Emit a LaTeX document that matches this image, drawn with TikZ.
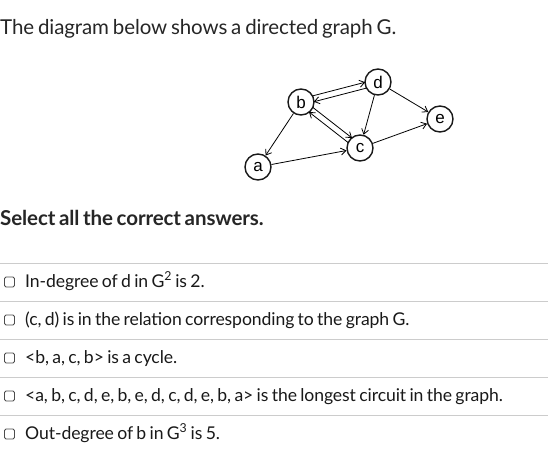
\documentclass[tikz,border=0pt]{standalone}
\usepackage{fontspec}
\setmainfont{Lato}[WordSpace=0.75,LetterSpace=-0.5]
\newfontfamily\nodefont{Liberation Sans}
\usetikzlibrary{arrows.meta,calc}
\begin{document}
\begin{tikzpicture}[x=1pt,y=-1pt,
  vtx/.style={circle,draw=black!90,line width=1.4pt,minimum size=26pt,inner sep=0pt,font=\nodefont\fontsize{17}{17}\selectfont},
  edge/.style={draw=black,line width=0.8pt,-{Straight Barb[length=5pt,width=7pt]}},
  paredge/.style={edge,shorten <=12.5pt,shorten >=12.5pt},
  sep/.style={draw=black!20,line width=1pt},
  cbox/.style={draw=black!70,line width=0.9pt,rounded corners=1.5pt,minimum size=10pt,inner sep=0pt},
  itemtxt/.style={anchor=base west,inner sep=0pt,font=\fontsize{17.6}{19}\selectfont,text=black!90},
]
\useasboundingbox (0,0) rectangle (548,460);
\fill[white] (0,0) rectangle (548,460);
\node[anchor=base west,inner sep=0pt,font=\fontsize{20.5}{22}\selectfont,text=black!85] (title) at (0,35) {The diagram below shows a directed graph G.};
% graph
\node[vtx] (a) at (258,167) {a};
\node[vtx] (b) at (301,102) {b};
\node[vtx] (c) at (360,148) {c};
\node[vtx] (d) at (378,82) {d};
\node[vtx] (e) at (440,119) {e};
\coordinate (bd1) at ($(b)!3pt!90:(d)$);
\coordinate (db1) at ($(d)!3pt!-90:(b)$);
\coordinate (bd2) at ($(b)!3pt!-90:(d)$);
\coordinate (db2) at ($(d)!3pt!90:(b)$);
\coordinate (bc1) at ($(b)!3pt!90:(c)$);
\coordinate (cb1) at ($(c)!3pt!-90:(b)$);
\coordinate (bc2) at ($(b)!3pt!-90:(c)$);
\coordinate (cb2) at ($(c)!3pt!90:(b)$);
\draw[edge] (b) -- (a);
\draw[edge] (a) -- (c);
\draw[paredge] (bd1) -- (db1);
\draw[paredge] (db2) -- (bd2);
\draw[paredge] (bc1) -- (cb1);
\draw[paredge] (cb2) -- (bc2);
\draw[edge] (d) -- (c);
\draw[edge] (d) -- (e);
\draw[edge] (c) -- (e);
% prompt
\node[anchor=base west,inner sep=0pt,font=\bfseries\fontsize{20.5}{22}\selectfont,text=black!85] (prompt) at (0,225) {Select all the correct answers.};
% separators
\coordinate (l1a) at (0,263); \coordinate (l1b) at (548,263);
\coordinate (l2a) at (0,301); \coordinate (l2b) at (548,301);
\coordinate (l3a) at (0,339); \coordinate (l3b) at (548,339);
\coordinate (l4a) at (0,377); \coordinate (l4b) at (548,377);
\coordinate (l5a) at (0,415); \coordinate (l5b) at (548,415);
\draw[sep] (l1a) -- (l1b);
\draw[sep] (l2a) -- (l2b);
\draw[sep] (l3a) -- (l3b);
\draw[sep] (l4a) -- (l4b);
\draw[sep] (l5a) -- (l5b);
% items
\node[cbox] (k1) at (9.5,282) {};
\node[cbox] (k2) at (9.5,320) {};
\node[cbox] (k3) at (9.5,358) {};
\node[cbox] (k4) at (9.5,396) {};
\node[cbox] (k5) at (9.5,434) {};
\node[itemtxt] (t1) at (25,287) {In-degree of d in G\textsuperscript{2} is 2.};
\node[itemtxt] (t2) at (25,325) {(c, d) is in the relation corresponding to the graph G.};
\node[itemtxt] (t3) at (25,363) {<b, a, c, b> is a cycle.};
\node[itemtxt] (t4) at (25,401) {<a, b, c, d, e, b, e, d, c, d, e, b, a> is the longest circuit in the graph.};
\node[itemtxt] (t5) at (25,439) {Out-degree of b in G\textsuperscript{3} is 5.};
\end{tikzpicture}
\end{document}
